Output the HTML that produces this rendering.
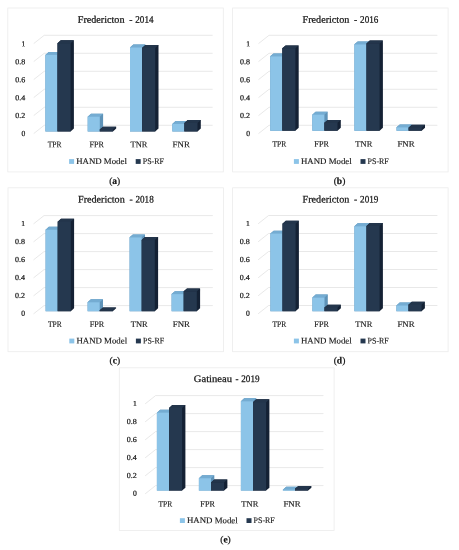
<!DOCTYPE html>
<html lang="en"><head><meta charset="utf-8"><title>Figure</title>
<style>
html,body{margin:0;padding:0;background:#fff;}
body{width:459px;height:550px;overflow:hidden;font-family:"Liberation Serif",serif;}
svg{display:block;}
text{font-family:"Liberation Serif",serif;fill:#161616;stroke:#161616;stroke-width:0.22px;text-rendering:geometricPrecision;}
.t{font-size:10px;stroke-width:0.25px;}
.s{font-size:8.6px;stroke-width:0.15px;}
.y{font-size:7.6px;stroke-width:0.22px;}
.c{font-size:9.5px;fill:#111;}
</style></head><body>
<svg width="459" height="550" viewBox="0 0 459 550">
<rect width="459" height="550" fill="#fff"/>
<g><rect x="7.8" y="8" width="215.5" height="163.9" fill="#fff" stroke="#ececec" stroke-width="0.8"/><text class="t" transform="translate(77.8 22.7) rotate(0.08)"><tspan x="0" textLength="46.7" lengthAdjust="spacingAndGlyphs">Fredericton</tspan> <tspan x="51.4" textLength="3.2" lengthAdjust="spacingAndGlyphs">-</tspan> <tspan x="57.5" textLength="18.2" lengthAdjust="spacingAndGlyphs">2014</tspan></text><path d="M33.7,43.6L44.2,35.3H212.6M33.7,61.6L44.2,53.3H212.6M33.7,79.6L44.2,71.3H212.6M33.7,97.6L44.2,89.3H212.6M33.7,115.6L44.2,107.3H212.6M33.7,133.6L44.2,125.3H212.6" fill="none" stroke="#e2e2e2" stroke-width="0.8"/><text class="y" transform="translate(25.3 46.3) rotate(0.08)" text-anchor="end">1</text><text class="y" transform="translate(25.3 64.25) rotate(0.08)" text-anchor="end" textLength="10" lengthAdjust="spacingAndGlyphs">0.8</text><text class="y" transform="translate(25.3 82.2) rotate(0.08)" text-anchor="end" textLength="10" lengthAdjust="spacingAndGlyphs">0.6</text><text class="y" transform="translate(25.3 100.15) rotate(0.08)" text-anchor="end" textLength="10" lengthAdjust="spacingAndGlyphs">0.4</text><text class="y" transform="translate(25.3 118.1) rotate(0.08)" text-anchor="end" textLength="10" lengthAdjust="spacingAndGlyphs">0.2</text><text class="y" transform="translate(25.3 136.05) rotate(0.08)" text-anchor="end">0</text><polygon points="45.4,131.4 45.4,54.9 48.7,52 60.8,52 60.8,128.5 57.5,131.4" fill="#5f93b8"/><polygon points="45.4,55.2 45.4,54.9 48.7,52 60.8,52 57.5,54.9 57.5,55.2" fill="#74acd2"/><rect x="45.4" y="54.9" width="12.1" height="76.5" fill="#8cc4e8"/><polygon points="57.5,131.4 57.5,43.2 60.8,40.3 73.9,40.3 73.9,128.5 70.6,131.4" fill="#142134"/><polygon points="57.5,43.5 57.5,43.2 60.8,40.3 73.9,40.3 70.6,43.2 70.6,43.5" fill="#23354b"/><rect x="57.5" y="43.2" width="13.1" height="88.2" fill="#25384f"/><text class="s" transform="translate(54.6 147.2) rotate(0.08)" text-anchor="middle" textLength="13.8" lengthAdjust="spacingAndGlyphs">TPR</text><polygon points="87.7,131.4 87.7,116.73 91,113.83 103.1,113.83 103.1,128.5 99.8,131.4" fill="#5f93b8"/><polygon points="87.7,117.03 87.7,116.73 91,113.83 103.1,113.83 99.8,116.73 99.8,117.03" fill="#74acd2"/><rect x="87.7" y="116.73" width="12.1" height="14.67" fill="#8cc4e8"/><polygon points="99.8,131.4 99.8,129.6 103.1,126.7 116.2,126.7 116.2,128.5 112.9,131.4" fill="#142134"/><polygon points="99.8,129.9 99.8,129.6 103.1,126.7 116.2,126.7 112.9,129.6 112.9,129.9" fill="#23354b"/><rect x="99.8" y="129.6" width="13.1" height="1.8" fill="#25384f"/><text class="s" transform="translate(96.8 147.2) rotate(0.08)" text-anchor="middle" textLength="14.5" lengthAdjust="spacingAndGlyphs">FPR</text><polygon points="130,131.4 130,47.43 133.3,44.53 145.4,44.53 145.4,128.5 142.1,131.4" fill="#5f93b8"/><polygon points="130,47.73 130,47.43 133.3,44.53 145.4,44.53 142.1,47.43 142.1,47.73" fill="#74acd2"/><rect x="130" y="47.43" width="12.1" height="83.97" fill="#8cc4e8"/><polygon points="142.1,131.4 142.1,47.88 145.4,44.98 158.5,44.98 158.5,128.5 155.2,131.4" fill="#142134"/><polygon points="142.1,48.18 142.1,47.88 145.4,44.98 158.5,44.98 155.2,47.88 155.2,48.18" fill="#23354b"/><rect x="142.1" y="47.88" width="13.1" height="83.52" fill="#25384f"/><text class="s" transform="translate(139 147.2) rotate(0.08)" text-anchor="middle" textLength="16.9" lengthAdjust="spacingAndGlyphs">TNR</text><polygon points="172.3,131.4 172.3,123.93 175.6,121.03 187.7,121.03 187.7,128.5 184.4,131.4" fill="#5f93b8"/><polygon points="172.3,124.23 172.3,123.93 175.6,121.03 187.7,121.03 184.4,123.93 184.4,124.23" fill="#74acd2"/><rect x="172.3" y="123.93" width="12.1" height="7.47" fill="#8cc4e8"/><polygon points="184.4,131.4 184.4,122.94 187.7,120.04 200.8,120.04 200.8,128.5 197.5,131.4" fill="#142134"/><polygon points="184.4,123.24 184.4,122.94 187.7,120.04 200.8,120.04 197.5,122.94 197.5,123.24" fill="#23354b"/><rect x="184.4" y="122.94" width="13.1" height="8.46" fill="#25384f"/><text class="s" transform="translate(181.2 147.2) rotate(0.08)" text-anchor="middle" textLength="17.2" lengthAdjust="spacingAndGlyphs">FNR</text><rect x="69.1" y="159.1" width="5" height="4.8" fill="#8cc4e8"/><text class="s" transform="translate(76.2 164) rotate(0.08)" textLength="50.7" lengthAdjust="spacingAndGlyphs">HAND Model</text><rect x="135.7" y="159.1" width="5" height="4.8" fill="#25384f"/><text class="s" transform="translate(142.8 164) rotate(0.08)" textLength="21.1" lengthAdjust="spacingAndGlyphs">PS-RF</text><text class="c" transform="translate(114.7 183.9) rotate(0.08)" text-anchor="middle">(<tspan font-weight="bold">a</tspan>)</text></g>
<g><rect x="232.6" y="8" width="215.5" height="163.9" fill="#fff" stroke="#ececec" stroke-width="0.8"/><text class="t" transform="translate(302.6 22.7) rotate(0.08)"><tspan x="0" textLength="46.7" lengthAdjust="spacingAndGlyphs">Fredericton</tspan> <tspan x="51.4" textLength="3.2" lengthAdjust="spacingAndGlyphs">-</tspan> <tspan x="57.5" textLength="18.2" lengthAdjust="spacingAndGlyphs">2016</tspan></text><path d="M258.5,43.6L269,35.3H437.4M258.5,61.6L269,53.3H437.4M258.5,79.6L269,71.3H437.4M258.5,97.6L269,89.3H437.4M258.5,115.6L269,107.3H437.4M258.5,133.6L269,125.3H437.4" fill="none" stroke="#e2e2e2" stroke-width="0.8"/><text class="y" transform="translate(250.1 46.3) rotate(0.08)" text-anchor="end">1</text><text class="y" transform="translate(250.1 64.25) rotate(0.08)" text-anchor="end" textLength="10" lengthAdjust="spacingAndGlyphs">0.8</text><text class="y" transform="translate(250.1 82.2) rotate(0.08)" text-anchor="end" textLength="10" lengthAdjust="spacingAndGlyphs">0.6</text><text class="y" transform="translate(250.1 100.15) rotate(0.08)" text-anchor="end" textLength="10" lengthAdjust="spacingAndGlyphs">0.4</text><text class="y" transform="translate(250.1 118.1) rotate(0.08)" text-anchor="end" textLength="10" lengthAdjust="spacingAndGlyphs">0.2</text><text class="y" transform="translate(250.1 136.05) rotate(0.08)" text-anchor="end">0</text><polygon points="270.2,130.7 270.2,56.36 273.5,53.46 285.6,53.46 285.6,127.8 282.3,130.7" fill="#5f93b8"/><polygon points="270.2,56.66 270.2,56.36 273.5,53.46 285.6,53.46 282.3,56.36 282.3,56.66" fill="#74acd2"/><rect x="270.2" y="56.36" width="12.1" height="74.34" fill="#8cc4e8"/><polygon points="282.3,130.7 282.3,48.35 285.6,45.45 298.7,45.45 298.7,127.8 295.4,130.7" fill="#142134"/><polygon points="282.3,48.65 282.3,48.35 285.6,45.45 298.7,45.45 295.4,48.35 295.4,48.65" fill="#23354b"/><rect x="282.3" y="48.35" width="13.1" height="82.35" fill="#25384f"/><text class="s" transform="translate(279.4 146.8) rotate(0.08)" text-anchor="middle" textLength="13.8" lengthAdjust="spacingAndGlyphs">TPR</text><polygon points="312.3,130.7 312.3,114.68 315.6,111.78 327.7,111.78 327.7,127.8 324.4,130.7" fill="#5f93b8"/><polygon points="312.3,114.98 312.3,114.68 315.6,111.78 327.7,111.78 324.4,114.68 324.4,114.98" fill="#74acd2"/><rect x="312.3" y="114.68" width="12.1" height="16.02" fill="#8cc4e8"/><polygon points="324.4,130.7 324.4,122.78 327.7,119.88 340.8,119.88 340.8,127.8 337.5,130.7" fill="#142134"/><polygon points="324.4,123.08 324.4,122.78 327.7,119.88 340.8,119.88 337.5,122.78 337.5,123.08" fill="#23354b"/><rect x="324.4" y="122.78" width="13.1" height="7.92" fill="#25384f"/><text class="s" transform="translate(321.6 146.8) rotate(0.08)" text-anchor="middle" textLength="14.5" lengthAdjust="spacingAndGlyphs">FPR</text><polygon points="354.4,130.7 354.4,44.3 357.7,41.4 369.8,41.4 369.8,127.8 366.5,130.7" fill="#5f93b8"/><polygon points="354.4,44.6 354.4,44.3 357.7,41.4 369.8,41.4 366.5,44.3 366.5,44.6" fill="#74acd2"/><rect x="354.4" y="44.3" width="12.1" height="86.4" fill="#8cc4e8"/><polygon points="366.5,130.7 366.5,43.49 369.8,40.59 382.9,40.59 382.9,127.8 379.6,130.7" fill="#142134"/><polygon points="366.5,43.79 366.5,43.49 369.8,40.59 382.9,40.59 379.6,43.49 379.6,43.79" fill="#23354b"/><rect x="366.5" y="43.49" width="13.1" height="87.21" fill="#25384f"/><text class="s" transform="translate(363.8 146.8) rotate(0.08)" text-anchor="middle" textLength="16.9" lengthAdjust="spacingAndGlyphs">TNR</text><polygon points="396.5,130.7 396.5,127.28 399.8,124.38 411.9,124.38 411.9,127.8 408.6,130.7" fill="#5f93b8"/><polygon points="396.5,127.58 396.5,127.28 399.8,124.38 411.9,124.38 408.6,127.28 408.6,127.58" fill="#74acd2"/><rect x="396.5" y="127.28" width="12.1" height="3.42" fill="#8cc4e8"/><polygon points="408.6,130.7 408.6,127.73 411.9,124.83 425,124.83 425,127.8 421.7,130.7" fill="#142134"/><polygon points="408.6,128.03 408.6,127.73 411.9,124.83 425,124.83 421.7,127.73 421.7,128.03" fill="#23354b"/><rect x="408.6" y="127.73" width="13.1" height="2.97" fill="#25384f"/><text class="s" transform="translate(406 146.8) rotate(0.08)" text-anchor="middle" textLength="17.2" lengthAdjust="spacingAndGlyphs">FNR</text><rect x="293.9" y="159.1" width="5" height="4.8" fill="#8cc4e8"/><text class="s" transform="translate(301 164) rotate(0.08)" textLength="50.7" lengthAdjust="spacingAndGlyphs">HAND Model</text><rect x="360.5" y="159.1" width="5" height="4.8" fill="#25384f"/><text class="s" transform="translate(367.6 164) rotate(0.08)" textLength="21.1" lengthAdjust="spacingAndGlyphs">PS-RF</text><text class="c" transform="translate(339.5 183.9) rotate(0.08)" text-anchor="middle">(<tspan font-weight="bold">b</tspan>)</text></g>
<g><rect x="8" y="187.8" width="215.5" height="163.9" fill="#fff" stroke="#ececec" stroke-width="0.8"/><text class="t" transform="translate(78 202.5) rotate(0.08)"><tspan x="0" textLength="46.7" lengthAdjust="spacingAndGlyphs">Fredericton</tspan> <tspan x="51.4" textLength="3.2" lengthAdjust="spacingAndGlyphs">-</tspan> <tspan x="57.5" textLength="18.2" lengthAdjust="spacingAndGlyphs">2018</tspan></text><path d="M33.5,223.9L44,215.6H212.8M33.5,241.9L44,233.6H212.8M33.5,259.9L44,251.6H212.8M33.5,277.9L44,269.6H212.8M33.5,295.9L44,287.6H212.8M33.5,313.9L44,305.6H212.8" fill="none" stroke="#e2e2e2" stroke-width="0.8"/><text class="y" transform="translate(25.1 226.1) rotate(0.08)" text-anchor="end">1</text><text class="y" transform="translate(25.1 244.05) rotate(0.08)" text-anchor="end" textLength="10" lengthAdjust="spacingAndGlyphs">0.8</text><text class="y" transform="translate(25.1 262) rotate(0.08)" text-anchor="end" textLength="10" lengthAdjust="spacingAndGlyphs">0.6</text><text class="y" transform="translate(25.1 279.95) rotate(0.08)" text-anchor="end" textLength="10" lengthAdjust="spacingAndGlyphs">0.4</text><text class="y" transform="translate(25.1 297.9) rotate(0.08)" text-anchor="end" textLength="10" lengthAdjust="spacingAndGlyphs">0.2</text><text class="y" transform="translate(25.1 315.85) rotate(0.08)" text-anchor="end">0</text><polygon points="45.6,311.2 45.6,229.75 48.9,226.85 61,226.85 61,308.3 57.7,311.2" fill="#5f93b8"/><polygon points="45.6,230.05 45.6,229.75 48.9,226.85 61,226.85 57.7,229.75 57.7,230.05" fill="#74acd2"/><rect x="45.6" y="229.75" width="12.1" height="81.45" fill="#8cc4e8"/><polygon points="57.7,311.2 57.7,221.65 61,218.75 74.1,218.75 74.1,308.3 70.8,311.2" fill="#142134"/><polygon points="57.7,221.95 57.7,221.65 61,218.75 74.1,218.75 70.8,221.65 70.8,221.95" fill="#23354b"/><rect x="57.7" y="221.65" width="13.1" height="89.55" fill="#25384f"/><text class="s" transform="translate(54.8 327.1) rotate(0.08)" text-anchor="middle" textLength="13.8" lengthAdjust="spacingAndGlyphs">TPR</text><polygon points="87.6,311.2 87.6,302.2 90.9,299.3 103,299.3 103,308.3 99.7,311.2" fill="#5f93b8"/><polygon points="87.6,302.5 87.6,302.2 90.9,299.3 103,299.3 99.7,302.2 99.7,302.5" fill="#74acd2"/><rect x="87.6" y="302.2" width="12.1" height="9" fill="#8cc4e8"/><polygon points="99.7,311.2 99.7,310.3 103,307.4 116.1,307.4 116.1,308.3 112.8,311.2" fill="#142134"/><polygon points="99.7,310.6 99.7,310.3 103,307.4 116.1,307.4 112.8,310.3 112.8,310.6" fill="#23354b"/><rect x="99.7" y="310.3" width="13.1" height="0.9" fill="#25384f"/><text class="s" transform="translate(97 327.1) rotate(0.08)" text-anchor="middle" textLength="14.5" lengthAdjust="spacingAndGlyphs">FPR</text><polygon points="129.6,311.2 129.6,237.31 132.9,234.41 145,234.41 145,308.3 141.7,311.2" fill="#5f93b8"/><polygon points="129.6,237.61 129.6,237.31 132.9,234.41 145,234.41 141.7,237.31 141.7,237.61" fill="#74acd2"/><rect x="129.6" y="237.31" width="12.1" height="73.89" fill="#8cc4e8"/><polygon points="141.7,311.2 141.7,240.01 145,237.11 158.1,237.11 158.1,308.3 154.8,311.2" fill="#142134"/><polygon points="141.7,240.31 141.7,240.01 145,237.11 158.1,237.11 154.8,240.01 154.8,240.31" fill="#23354b"/><rect x="141.7" y="240.01" width="13.1" height="71.19" fill="#25384f"/><text class="s" transform="translate(139.2 327.1) rotate(0.08)" text-anchor="middle" textLength="16.9" lengthAdjust="spacingAndGlyphs">TNR</text><polygon points="171.6,311.2 171.6,294.1 174.9,291.2 187,291.2 187,308.3 183.7,311.2" fill="#5f93b8"/><polygon points="171.6,294.4 171.6,294.1 174.9,291.2 187,291.2 183.7,294.1 183.7,294.4" fill="#74acd2"/><rect x="171.6" y="294.1" width="12.1" height="17.1" fill="#8cc4e8"/><polygon points="183.7,311.2 183.7,291.31 187,288.41 200.1,288.41 200.1,308.3 196.8,311.2" fill="#142134"/><polygon points="183.7,291.61 183.7,291.31 187,288.41 200.1,288.41 196.8,291.31 196.8,291.61" fill="#23354b"/><rect x="183.7" y="291.31" width="13.1" height="19.89" fill="#25384f"/><text class="s" transform="translate(181.4 327.1) rotate(0.08)" text-anchor="middle" textLength="17.2" lengthAdjust="spacingAndGlyphs">FNR</text><rect x="69.3" y="338.6" width="5" height="4.8" fill="#8cc4e8"/><text class="s" transform="translate(76.4 343.5) rotate(0.08)" textLength="50.7" lengthAdjust="spacingAndGlyphs">HAND Model</text><rect x="135.9" y="338.6" width="5" height="4.8" fill="#25384f"/><text class="s" transform="translate(143 343.5) rotate(0.08)" textLength="21.1" lengthAdjust="spacingAndGlyphs">PS-RF</text><text class="c" transform="translate(114.9 363.61) rotate(0.08)" text-anchor="middle">(<tspan font-weight="bold">c</tspan>)</text></g>
<g><rect x="232.6" y="187.8" width="215.5" height="163.9" fill="#fff" stroke="#ececec" stroke-width="0.8"/><text class="t" transform="translate(302.6 202.5) rotate(0.08)"><tspan x="0" textLength="46.7" lengthAdjust="spacingAndGlyphs">Fredericton</tspan> <tspan x="51.4" textLength="3.2" lengthAdjust="spacingAndGlyphs">-</tspan> <tspan x="57.5" textLength="18.2" lengthAdjust="spacingAndGlyphs">2019</tspan></text><path d="M258.1,223.8L268.6,215.5H437.4M258.1,241.8L268.6,233.5H437.4M258.1,259.8L268.6,251.5H437.4M258.1,277.8L268.6,269.5H437.4M258.1,295.8L268.6,287.5H437.4M258.1,313.8L268.6,305.5H437.4" fill="none" stroke="#e2e2e2" stroke-width="0.8"/><text class="y" transform="translate(249.7 226.1) rotate(0.08)" text-anchor="end">1</text><text class="y" transform="translate(249.7 244.05) rotate(0.08)" text-anchor="end" textLength="10" lengthAdjust="spacingAndGlyphs">0.8</text><text class="y" transform="translate(249.7 262) rotate(0.08)" text-anchor="end" textLength="10" lengthAdjust="spacingAndGlyphs">0.6</text><text class="y" transform="translate(249.7 279.95) rotate(0.08)" text-anchor="end" textLength="10" lengthAdjust="spacingAndGlyphs">0.4</text><text class="y" transform="translate(249.7 297.9) rotate(0.08)" text-anchor="end" textLength="10" lengthAdjust="spacingAndGlyphs">0.2</text><text class="y" transform="translate(249.7 315.85) rotate(0.08)" text-anchor="end">0</text><polygon points="270.4,311.2 270.4,233.62 273.7,230.72 285.8,230.72 285.8,308.3 282.5,311.2" fill="#5f93b8"/><polygon points="270.4,233.92 270.4,233.62 273.7,230.72 285.8,230.72 282.5,233.62 282.5,233.92" fill="#74acd2"/><rect x="270.4" y="233.62" width="12.1" height="77.58" fill="#8cc4e8"/><polygon points="282.5,311.2 282.5,223.72 285.8,220.82 298.9,220.82 298.9,308.3 295.6,311.2" fill="#142134"/><polygon points="282.5,224.02 282.5,223.72 285.8,220.82 298.9,220.82 295.6,223.72 295.6,224.02" fill="#23354b"/><rect x="282.5" y="223.72" width="13.1" height="87.48" fill="#25384f"/><text class="s" transform="translate(279.4 327.1) rotate(0.08)" text-anchor="middle" textLength="13.8" lengthAdjust="spacingAndGlyphs">TPR</text><polygon points="312.4,311.2 312.4,297.52 315.7,294.62 327.8,294.62 327.8,308.3 324.5,311.2" fill="#5f93b8"/><polygon points="312.4,297.82 312.4,297.52 315.7,294.62 327.8,294.62 324.5,297.52 324.5,297.82" fill="#74acd2"/><rect x="312.4" y="297.52" width="12.1" height="13.68" fill="#8cc4e8"/><polygon points="324.5,311.2 324.5,307.6 327.8,304.7 340.9,304.7 340.9,308.3 337.6,311.2" fill="#142134"/><polygon points="324.5,307.9 324.5,307.6 327.8,304.7 340.9,304.7 337.6,307.6 337.6,307.9" fill="#23354b"/><rect x="324.5" y="307.6" width="13.1" height="3.6" fill="#25384f"/><text class="s" transform="translate(321.6 327.1) rotate(0.08)" text-anchor="middle" textLength="14.5" lengthAdjust="spacingAndGlyphs">FPR</text><polygon points="354.4,311.2 354.4,226.24 357.7,223.34 369.8,223.34 369.8,308.3 366.5,311.2" fill="#5f93b8"/><polygon points="354.4,226.54 354.4,226.24 357.7,223.34 369.8,223.34 366.5,226.24 366.5,226.54" fill="#74acd2"/><rect x="354.4" y="226.24" width="12.1" height="84.96" fill="#8cc4e8"/><polygon points="366.5,311.2 366.5,225.97 369.8,223.07 382.9,223.07 382.9,308.3 379.6,311.2" fill="#142134"/><polygon points="366.5,226.27 366.5,225.97 369.8,223.07 382.9,223.07 379.6,225.97 379.6,226.27" fill="#23354b"/><rect x="366.5" y="225.97" width="13.1" height="85.23" fill="#25384f"/><text class="s" transform="translate(363.8 327.1) rotate(0.08)" text-anchor="middle" textLength="16.9" lengthAdjust="spacingAndGlyphs">TNR</text><polygon points="396.4,311.2 396.4,305.44 399.7,302.54 411.8,302.54 411.8,308.3 408.5,311.2" fill="#5f93b8"/><polygon points="396.4,305.74 396.4,305.44 399.7,302.54 411.8,302.54 408.5,305.44 408.5,305.74" fill="#74acd2"/><rect x="396.4" y="305.44" width="12.1" height="5.76" fill="#8cc4e8"/><polygon points="408.5,311.2 408.5,304.63 411.8,301.73 424.9,301.73 424.9,308.3 421.6,311.2" fill="#142134"/><polygon points="408.5,304.93 408.5,304.63 411.8,301.73 424.9,301.73 421.6,304.63 421.6,304.93" fill="#23354b"/><rect x="408.5" y="304.63" width="13.1" height="6.57" fill="#25384f"/><text class="s" transform="translate(406 327.1) rotate(0.08)" text-anchor="middle" textLength="17.2" lengthAdjust="spacingAndGlyphs">FNR</text><rect x="293.9" y="338.6" width="5" height="4.8" fill="#8cc4e8"/><text class="s" transform="translate(301 343.5) rotate(0.08)" textLength="50.7" lengthAdjust="spacingAndGlyphs">HAND Model</text><rect x="360.5" y="338.6" width="5" height="4.8" fill="#25384f"/><text class="s" transform="translate(367.6 343.5) rotate(0.08)" textLength="21.1" lengthAdjust="spacingAndGlyphs">PS-RF</text><text class="c" transform="translate(339.5 363.61) rotate(0.08)" text-anchor="middle">(<tspan font-weight="bold">d</tspan>)</text></g>
<g><rect x="119.3" y="367.8" width="214.8" height="162.8" fill="#fff" stroke="#ececec" stroke-width="0.8"/><text class="t" transform="translate(193.8 382) rotate(0.08)"><tspan x="0" textLength="38.3" lengthAdjust="spacingAndGlyphs">Gatineau</tspan> <tspan x="41.6" textLength="3.0" lengthAdjust="spacingAndGlyphs">-</tspan> <tspan x="47.5" textLength="18.2" lengthAdjust="spacingAndGlyphs">2019</tspan></text><path d="M145.1,403.9L155.6,395.6H323.4M145.1,421.9L155.6,413.6H323.4M145.1,439.9L155.6,431.6H323.4M145.1,457.9L155.6,449.6H323.4M145.1,475.9L155.6,467.6H323.4M145.1,493.9L155.6,485.6H323.4" fill="none" stroke="#e2e2e2" stroke-width="0.8"/><text class="y" transform="translate(136.7 406.1) rotate(0.08)" text-anchor="end">1</text><text class="y" transform="translate(136.7 424.05) rotate(0.08)" text-anchor="end" textLength="10" lengthAdjust="spacingAndGlyphs">0.8</text><text class="y" transform="translate(136.7 442) rotate(0.08)" text-anchor="end" textLength="10" lengthAdjust="spacingAndGlyphs">0.6</text><text class="y" transform="translate(136.7 459.95) rotate(0.08)" text-anchor="end" textLength="10" lengthAdjust="spacingAndGlyphs">0.4</text><text class="y" transform="translate(136.7 477.9) rotate(0.08)" text-anchor="end" textLength="10" lengthAdjust="spacingAndGlyphs">0.2</text><text class="y" transform="translate(136.7 495.85) rotate(0.08)" text-anchor="end">0</text><polygon points="156.9,490.6 156.9,412.66 160.2,409.76 172.3,409.76 172.3,487.7 169,490.6" fill="#5f93b8"/><polygon points="156.9,412.96 156.9,412.66 160.2,409.76 172.3,409.76 169,412.66 169,412.96" fill="#74acd2"/><rect x="156.9" y="412.66" width="12.1" height="77.94" fill="#8cc4e8"/><polygon points="169,490.6 169,407.89 172.3,404.99 185.4,404.99 185.4,487.7 182.1,490.6" fill="#142134"/><polygon points="169,408.19 169,407.89 172.3,404.99 185.4,404.99 182.1,407.89 182.1,408.19" fill="#23354b"/><rect x="169" y="407.89" width="13.1" height="82.71" fill="#25384f"/><text class="s" transform="translate(165.4 506.7) rotate(0.08)" text-anchor="middle" textLength="13.8" lengthAdjust="spacingAndGlyphs">TPR</text><polygon points="198.9,490.6 198.9,478.18 202.2,475.28 214.3,475.28 214.3,487.7 211,490.6" fill="#5f93b8"/><polygon points="198.9,478.48 198.9,478.18 202.2,475.28 214.3,475.28 211,478.18 211,478.48" fill="#74acd2"/><rect x="198.9" y="478.18" width="12.1" height="12.42" fill="#8cc4e8"/><polygon points="211,490.6 211,482.5 214.3,479.6 227.4,479.6 227.4,487.7 224.1,490.6" fill="#142134"/><polygon points="211,482.8 211,482.5 214.3,479.6 227.4,479.6 224.1,482.5 224.1,482.8" fill="#23354b"/><rect x="211" y="482.5" width="13.1" height="8.1" fill="#25384f"/><text class="s" transform="translate(207.6 506.7) rotate(0.08)" text-anchor="middle" textLength="14.5" lengthAdjust="spacingAndGlyphs">FPR</text><polygon points="240.9,490.6 240.9,401.23 244.2,398.33 256.3,398.33 256.3,487.7 253,490.6" fill="#5f93b8"/><polygon points="240.9,401.53 240.9,401.23 244.2,398.33 256.3,398.33 253,401.23 253,401.53" fill="#74acd2"/><rect x="240.9" y="401.23" width="12.1" height="89.37" fill="#8cc4e8"/><polygon points="253,490.6 253,402.13 256.3,399.23 269.4,399.23 269.4,487.7 266.1,490.6" fill="#142134"/><polygon points="253,402.43 253,402.13 256.3,399.23 269.4,399.23 266.1,402.13 266.1,402.43" fill="#23354b"/><rect x="253" y="402.13" width="13.1" height="88.47" fill="#25384f"/><text class="s" transform="translate(249.8 506.7) rotate(0.08)" text-anchor="middle" textLength="16.9" lengthAdjust="spacingAndGlyphs">TNR</text><polygon points="282.9,490.6 282.9,489.7 286.2,486.8 298.3,486.8 298.3,487.7 295,490.6" fill="#5f93b8"/><polygon points="282.9,490 282.9,489.7 286.2,486.8 298.3,486.8 295,489.7 295,490" fill="#74acd2"/><rect x="282.9" y="489.7" width="12.1" height="0.9" fill="#8cc4e8"/><polygon points="295,490.6 295,488.8 298.3,485.9 311.4,485.9 311.4,487.7 308.1,490.6" fill="#142134"/><polygon points="295,489.1 295,488.8 298.3,485.9 311.4,485.9 308.1,488.8 308.1,489.1" fill="#23354b"/><rect x="295" y="488.8" width="13.1" height="1.8" fill="#25384f"/><text class="s" transform="translate(292 506.7) rotate(0.08)" text-anchor="middle" textLength="17.2" lengthAdjust="spacingAndGlyphs">FNR</text><rect x="179.9" y="518.2" width="5" height="4.8" fill="#8cc4e8"/><text class="s" transform="translate(187 523.1) rotate(0.08)" textLength="50.7" lengthAdjust="spacingAndGlyphs">HAND Model</text><rect x="246.5" y="518.2" width="5" height="4.8" fill="#25384f"/><text class="s" transform="translate(253.6 523.1) rotate(0.08)" textLength="21.1" lengthAdjust="spacingAndGlyphs">PS-RF</text><text class="c" transform="translate(225.5 542.39) rotate(0.08)" text-anchor="middle">(<tspan font-weight="bold">e</tspan>)</text></g>
</svg>
</body></html>
